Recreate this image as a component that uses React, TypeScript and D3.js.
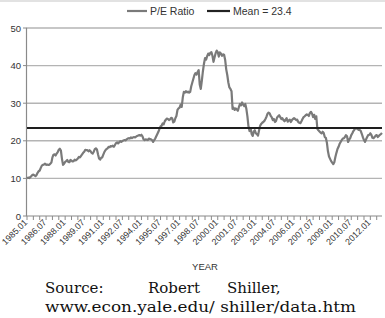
import React from "react";
import * as d3 from "d3";

// Monthly cyclically adjusted P/E ratio, one row per year (Jan..Dec)
const pe1985_1990: number[] = [
  10.0, 10.2, 10.1, 10.3, 10.6, 10.9, 11.0, 10.8, 10.6, 10.9, 11.5, 11.9,
  12.1, 12.8, 13.4, 13.6, 13.7, 13.9, 13.6, 13.7, 13.6, 13.6, 13.9, 14.2,
  15.6, 16.3, 16.4, 16.1, 16.6, 17.0, 17.6, 17.9, 17.4, 15.2, 13.6, 13.9,
  14.4, 14.6, 14.9, 14.4, 14.3, 14.9, 14.7, 14.5, 14.6, 15.0, 14.8, 15.0,
  15.3, 15.7, 15.6, 16.0, 16.4, 16.8, 17.1, 17.6, 17.5, 17.5, 17.2, 17.5,
  17.2, 16.8, 16.6, 17.1, 17.8, 18.0, 17.7, 16.4, 15.3, 15.0, 15.5, 15.6,
];
const pe1991_1996: number[] = [
  16.3, 17.0, 17.5, 17.8, 18.0, 18.4, 18.3, 18.6, 18.5, 18.7, 18.4, 18.9,
  19.4, 19.6, 19.3, 19.6, 19.9, 19.7, 19.9, 20.1, 20.2, 20.1, 20.4, 20.6,
  20.7, 20.6, 20.9, 20.7, 20.9, 21.0, 20.9, 21.1, 21.3, 21.4, 21.5, 21.4,
  21.6, 21.2, 20.4, 20.2, 20.4, 20.3, 20.2, 20.6, 20.5, 20.4, 20.2, 19.7,
  20.2, 20.6, 21.2, 21.8, 22.4, 23.2, 23.8, 24.0, 24.6, 24.4, 25.2, 25.6,
  25.9, 25.8, 25.5, 25.7, 26.1, 26.0, 24.9, 25.1, 26.0, 26.6, 28.2, 28.6,
];
const pe1997_2002: number[] = [
  28.8, 29.6, 29.0, 31.5, 33.0, 32.8, 33.2, 32.9, 33.1, 32.8, 33.0, 34.5,
  35.5, 36.5, 37.5, 38.0, 37.6, 38.3, 38.8, 35.0, 33.8, 36.0, 38.5, 40.5,
  42.0, 41.6, 42.5, 43.2, 42.8, 43.4, 43.6, 42.6, 41.0, 42.2, 43.3, 44.0,
  43.6, 42.4, 43.5, 43.2, 42.6, 43.0, 42.9, 41.5, 39.0, 37.5, 35.5, 34.2,
  33.8, 33.2, 28.5, 28.8, 28.2, 28.6, 28.3, 28.0, 29.0, 29.8, 29.4, 30.2,
  29.6, 29.2, 29.8, 28.5, 26.5, 23.8, 22.6, 23.4, 21.8, 21.3, 22.5, 22.8,
];
const pe2003_2008: number[] = [
  22.0, 21.8, 21.4, 22.8, 24.0, 24.5, 24.8, 25.0, 25.3, 25.8, 26.4, 27.2,
  27.5, 27.3, 26.6, 26.2, 25.5, 25.8, 25.0, 25.3, 26.2, 26.5, 26.8, 26.3,
  25.8, 26.0, 25.5, 25.2, 25.6, 26.0, 25.1, 25.4, 25.6, 25.0, 25.5, 25.8,
  26.0, 25.8, 25.5, 25.6, 25.0, 24.8, 24.7, 25.2, 25.8, 26.3, 26.5, 26.8,
  27.0, 26.9, 26.6, 27.4, 27.7, 27.2, 26.3, 26.9, 25.8, 26.5, 23.2, 22.8,
  22.5, 22.2, 22.0, 22.4, 22.1, 21.0, 20.8, 19.5, 17.2, 15.8, 15.2, 14.6,
];
const pe2009_2012: number[] = [
  14.2, 13.8, 14.3, 15.7, 16.8, 17.8, 18.4, 19.2, 19.7, 20.2, 20.6, 20.7,
  21.0, 21.5, 21.2, 19.7, 20.3, 20.7, 21.5, 22.0, 22.6, 23.0, 23.4, 23.3,
  23.1, 22.9, 22.9, 22.6, 21.8, 20.9, 20.2, 19.7, 20.4, 21.0, 21.5, 21.6,
  22.0, 21.6, 20.8, 20.7, 21.0, 21.4, 21.5, 21.0, 21.3, 21.6, 21.8, 22.1,
];

const peRatio: number[] = [
  ...pe1985_1990,
  ...pe1991_1996,
  ...pe1997_2002,
  ...pe2003_2008,
  ...pe2009_2012,
];

const meanValue = 23.4;
const yTicks: number[] = [0, 10, 20, 30, 40, 50];
const xTickLabels: string[] = [
  "1985.01", "1986.07", "1988.01", "1989.07", "1991.01", "1992.07",
  "1994.01", "1995.07", "1997.01", "1998.07", "2000.01", "2001.07",
  "2003.01", "2004.07", "2006.01", "2007.07", "2009.01", "2010.07",
  "2012.01",
];
const legendLabels: string[] = ["P/E Ratio", "Mean = 23.4"];
const xAxisTitle = "YEAR";
const sourceWords: string[] = ["Source:", "Robert", "Shiller,"];
const sourceUrl = "www.econ.yale.edu/ shiller/data.htm";

const W = 385;
const H = 318;
const left = 27;
const right = 382;
const top = 28;
const bottom = 216;

const sans = "'Liberation Sans', Arial, sans-serif";
const serif = "'DejaVu Serif', serif";

export default function App() {
  const x = d3.scaleLinear().domain([0, peRatio.length - 1]).range([left, right]);
  const y = d3.scaleLinear().domain([0, 50]).range([bottom, top]);

  const line = d3
    .line<number>()
    .x((_, i) => x(i))
    .y((d) => y(d))
    .curve(d3.curveLinear);

  // minor ticks every 6 months, labels every 18 months
  const minorTicks = d3.range(0, peRatio.length, 6);
  const labelTicks = xTickLabels.map((label, k) => ({ label, m: k * 18 }));

  return (
    <svg
      width={W}
      height={H}
      style={{ position: "absolute", left: 0, top: 0, background: "#fff" }}
    >
      <rect x={0} y={0} width={W} height={2} fill="#e2e2e2" />

      {/* legend */}
      <g fontFamily={sans} fontSize={10.5} fill="#333">
        <line x1={127} x2={147} y1={11} y2={11} stroke="#7a7a7a" strokeWidth={2.2} />
        <text x={150} y={14.5}>{legendLabels[0]}</text>
        <line x1={207} x2={230} y1={11} y2={11} stroke="#222" strokeWidth={2.2} />
        <text x={233} y={14.5}>{legendLabels[1]}</text>
      </g>

      {/* horizontal gridlines */}
      {yTicks
        .filter((t) => t > 0)
        .map((t) => (
          <line
            key={t}
            x1={left - 1}
            x2={right}
            y1={y(t)}
            y2={y(t)}
            stroke="#b4b4b4"
            strokeWidth={1.4}
          />
        ))}

      {/* y axis */}
      <line x1={left - 0.5} x2={left - 0.5} y1={top} y2={bottom} stroke="#8a8a8a" strokeWidth={1.2} />
      {yTicks.map((t) => (
        <g key={t}>
          <line x1={left - 4} x2={left - 0.5} y1={y(t)} y2={y(t)} stroke="#8a8a8a" strokeWidth={1} />
          <text
            x={left - 6}
            y={y(t) + 3.5}
            textAnchor="end"
            fontFamily={sans}
            fontSize={9.5}
            fill="#333"
          >
            {t}
          </text>
        </g>
      ))}

      {/* x axis */}
      <line x1={left - 1} x2={right} y1={bottom} y2={bottom} stroke="#8a8a8a" strokeWidth={1.2} />
      {minorTicks.map((m) => (
        <line key={m} x1={x(m)} x2={x(m)} y1={bottom} y2={bottom + 4} stroke="#8a8a8a" strokeWidth={1} />
      ))}
      {labelTicks.map(({ label, m }) => (
        <text
          key={label}
          transform={`translate(${x(m) + 1},${bottom + 7}) rotate(-45)`}
          textAnchor="end"
          fontFamily={sans}
          fontSize={8.8}
          fill="#333"
        >
          {label}
        </text>
      ))}
      <text x={205} y={270} textAnchor="middle" fontFamily={sans} fontSize={9.5} fill="#333">
        {xAxisTitle}
      </text>

      {/* series */}
      <path d={line(peRatio) ?? ""} fill="none" stroke="#7a7a7a" strokeWidth={2.2} strokeLinejoin="round" />
      <line x1={left} x2={right} y1={y(meanValue)} y2={y(meanValue)} stroke="#1e1e1e" strokeWidth={2} />

      {/* source note */}
      <g fontFamily={serif} fontSize={15} fill="#111">
        <text x={45} y={293}>{sourceWords[0]}</text>
        <text x={148} y={293}>{sourceWords[1]}</text>
        <text x={227} y={293}>{sourceWords[2]}</text>
        <text x={45} y={312} textLength={311} lengthAdjust="spacingAndGlyphs">
          {sourceUrl}
        </text>
      </g>
    </svg>
  );
}
